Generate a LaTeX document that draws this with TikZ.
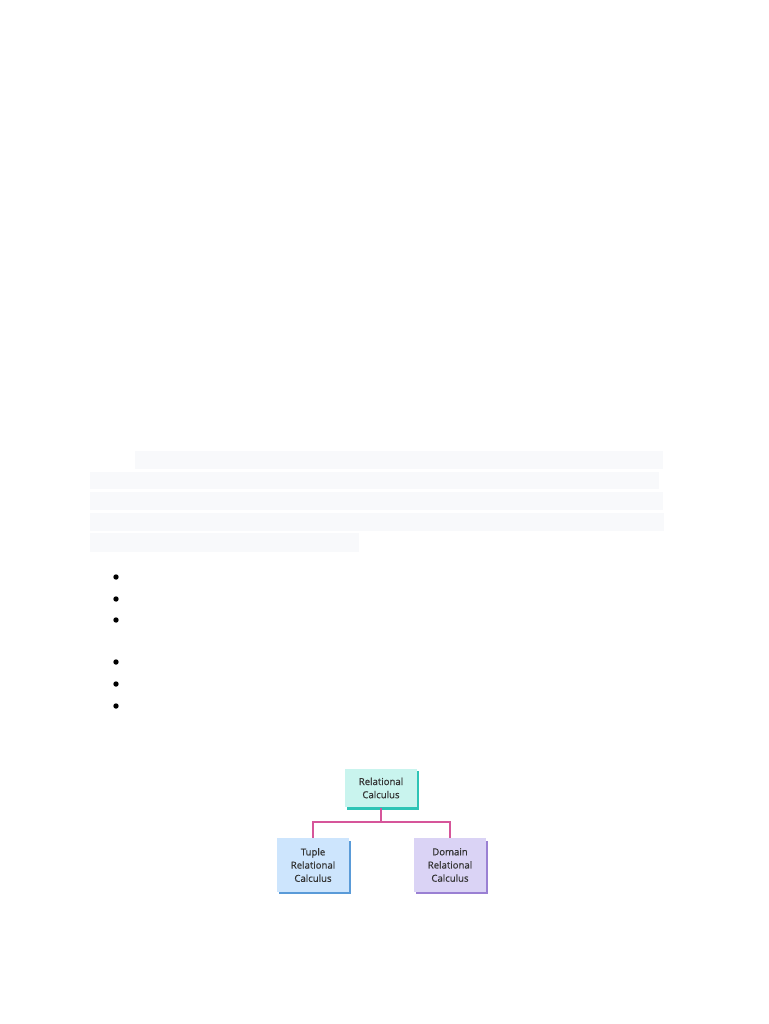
\documentclass[tikz,border=0pt]{standalone}
\usepackage{fontspec}
\setsansfont{Open Sans}[FakeBold=0.7]
\usepackage{tikz}
\usetikzlibrary{positioning,calc,shadows}

\definecolor{tealfill}{HTML}{C9F4EE}
\definecolor{tealedge}{HTML}{2EC4B6}
\definecolor{bluefill}{HTML}{CDE5FD}
\definecolor{blueedge}{HTML}{5A9BD8}
\definecolor{lilacfill}{HTML}{DAD3F5}
\definecolor{lilacedge}{HTML}{9A80D3}
\definecolor{linkpink}{HTML}{D6559A}
\definecolor{barfill}{HTML}{F8F9FB}

\begin{document}
\begin{tikzpicture}[x=0.75pt,y=-0.75pt,
  main node/.style={rectangle,align=center,inner sep=0pt,
    font=\sffamily\fontsize{7.2}{9.9}\selectfont,text=black!80},
  calc box/.style={main node,minimum width=54pt,minimum height=29pt},
  sub box/.style={main node,minimum width=54pt,minimum height=40pt},
  link/.style={linkpink,line width=1.4pt}]
    \useasboundingbox[fill=white] (0,0) rectangle (768,1024);
    % faint text bands
    \fill[barfill] (135,451) rectangle (663,469);
    \foreach \ya/\yb/\xb in {472/489/659,492/510/663,513/531/664,533/552/359}
      \fill[barfill] (90,\ya) rectangle (\xb,\yb);
    % bullets
    \foreach \yy in {577,599,620,662,684,706}
      \fill[black] (116,\yy) circle (2.7);
    % tree
    \node[calc box,fill=tealfill,
      drop shadow={shadow xshift=1.8pt,shadow yshift=-1.8pt,fill=tealedge,opacity=1}]
      (RC) at (381,788) {Relational\\Calculus};
    \node[sub box,fill=bluefill,
      drop shadow={shadow xshift=1.8pt,shadow yshift=-1.8pt,fill=blueedge,opacity=1}]
      (TRC) at (313,865) {Tuple\\Relational\\Calculus};
    \node[sub box,fill=lilacfill,
      drop shadow={shadow xshift=1.8pt,shadow yshift=-1.8pt,fill=lilacedge,opacity=1}]
      (DRC) at (450,865) {Domain\\Relational\\Calculus};
    \coordinate (fork) at ($(RC.south)+(0,14)$);
    \draw[link] (RC.south) -- (fork);
    \draw[link] (fork) -| (TRC.north);
    \draw[link] (fork) -| (DRC.north);
\end{tikzpicture}
\end{document}
